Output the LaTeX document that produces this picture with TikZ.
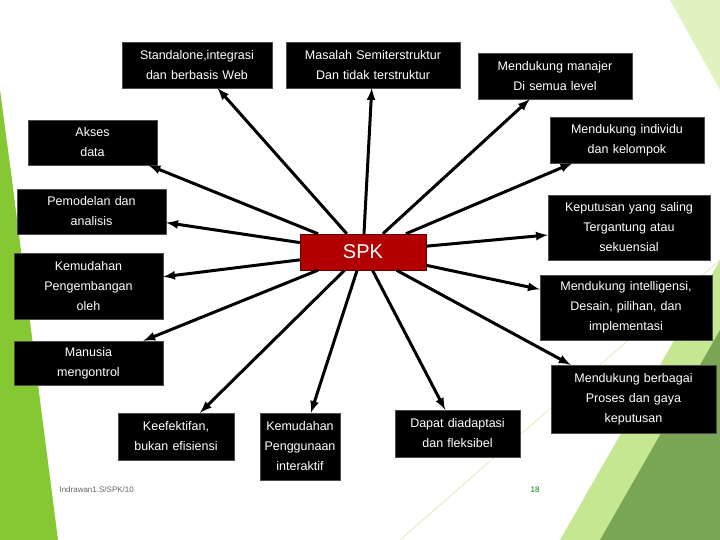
\documentclass[tikz,border=0pt]{standalone}
\usepackage{fontspec}
\setmainfont{Liberation Sans}
\begin{document}
\begin{tikzpicture}[x=1pt,y=-1pt,
 bx/.style={draw=black!70,fill=black,text=white,font=\fontsize{12.5}{20}\selectfont,align=center,inner sep=1pt},
 ar/.style={line width=3pt,-latex}]
\useasboundingbox (0,0) rectangle (720,540);
\fill[white] (0,0) rectangle (720,540);
% green decor
\fill[green!55!black!60!yellow!80] (0,90) -- (12,180) -- (40,400) -- (58,540) -- (0,540) -- cycle;
\fill[yellow!50!green!25] (670,0) -- (720,0) -- (720,90) -- cycle;
\fill[yellow!50!green!45] (720,260) -- (720,540) -- (560,540) -- cycle;
\fill[yellow!40!green!70!black!90] (720,330) -- (720,540) -- (600,540) -- cycle;
\draw[yellow!50!green!40,line width=0.5pt] (400,540) -- (720,260);
% boxes
\def\bb#1#2#3#4#5#6{\node[bx,minimum width=#4-#2,minimum height=#5-#3,text width=#4-#2-2] (#1) at ({(#2+#4)/2},{(#3+#5)/2}) {#6};}
\bb{a}{122}{42}{272}{88}{Standalone,integrasi\\dan berbasis Web}
\bb{b}{286}{42}{460}{88}{Masalah Semiterstruktur\\Dan tidak terstruktur}
\bb{c}{478}{53}{632}{99}{Mendukung manajer\\Di semua level}
\bb{d}{28}{120}{157}{165}{Akses\\data}
\bb{e}{550}{117}{704}{163}{Mendukung individu\\dan kelompok}
\bb{f}{17}{189}{166}{234}{Pemodelan dan\\analisis}
\bb{g}{548}{195}{710}{260}{Keputusan yang saling\\Tergantung atau\\sekuensial}
\bb{h}{14}{253}{163}{319}{Kemudahan\\Pengembangan\\oleh}
\bb{i}{540}{275}{712}{340}{Mendukung intelligensi,\\Desain, pilihan, dan\\implementasi}
\bb{j}{14}{341}{163}{385}{Manusia\\mengontrol}
\bb{k}{551}{365}{716}{433}{Mendukung berbagai\\Proses dan gaya\\keputusan}
\bb{l}{118}{413}{234}{460}{Keefektifan,\\bukan efisiensi}
\bb{m}{260}{413}{340}{480}{Kemudahan\\Penggunaan\\interaktif}
\bb{n}{395}{410}{520}{457}{Dapat diadaptasi\\dan fleksibel}
\node[fill=red!70!black,draw=red!40!black,text=white,font=\fontsize{20}{22}\selectfont,minimum width=126,minimum height=36] (s) at (363,252) {SPK};
\foreach \t in {a,b,c,d,e,f,g,h,i,j,k,l,m,n} \draw[ar] (s) -- (\t);
\node[font=\fontsize{8}{9}\selectfont,text=black!60,anchor=west] (ft) at (56,490) {Indrawan1.S/SPK/10};
\node[font=\fontsize{8}{9}\selectfont,text=green!50!black] (pg) at (535,490) {18};
\end{tikzpicture}
\end{document}
